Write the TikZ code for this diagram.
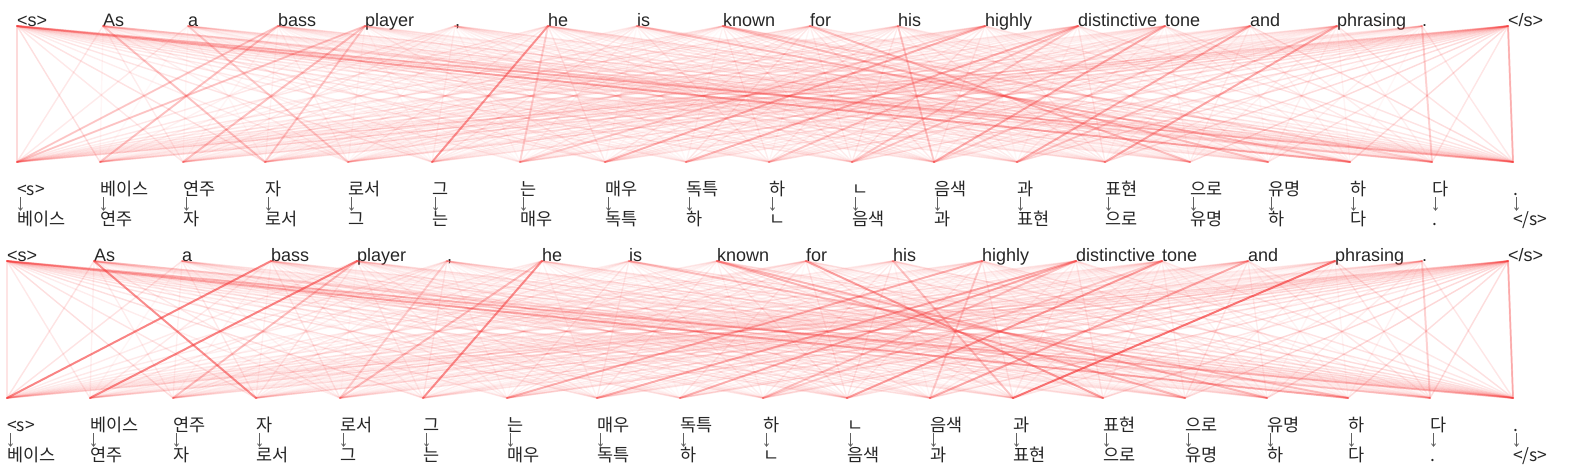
\documentclass[tikz,border=0pt]{standalone}
\usepackage{fontspec}
\setmainfont{Liberation Sans}
\newfontfamily\kr{Noto Sans CJK KR}
\usetikzlibrary{arrows.meta}
\definecolor{attred}{RGB}{245,60,60}
\tikzset{
  en/.style={anchor=base west,inner sep=0pt,font=\fontsize{18}{20}\selectfont,text=black!85},
  ko/.style={anchor=base west,inner sep=0pt,font=\kr\fontsize{17.5}{20}\selectfont,text=black!85,text height=14pt,text depth=2pt},
  att/.style={draw=attred,line width=1.4pt,line cap=round},
  hot/.style={draw=attred,line width=2pt,line cap=round},
  dn/.style={draw=gray!75!black,line width=0.8pt,-{Straight Barb[length=2.5pt,width=4pt]}}
}
\newcommand\attpanel[8]{%
  \foreach \t [count=\i from 0] in {<s>,As,a,bass,player,{,},he,is,known,for,his,highly,distinctive,tone,and,phrasing,.,</s>}{
    \pgfmathsetmacro\xx{#2[\i]}
    \node[en] (#1t\i) at (\xx,#4+1) {\t};
  }
  \foreach \j in {0,...,18}{
    \pgfmathsetmacro\xx{#3[\j]}
    \coordinate (#1b\j) at (\xx,#5);
  }
  \foreach \t [count=\j from 0] in {<s>,베이스,연주,자,로서,그,는,매우,독특,하,ㄴ,음색,과,표현,으로,유명,하,다,.}{
    \pgfmathsetmacro\xx{#3[\j]}
    \node[ko] (#1k\j) at (\xx,#6) {\t};
  }
  \foreach \t [count=\j from 0] in {베이스,연주,자,로서,그,는,매우,독특,하,ㄴ,음색,과,표현,으로,유명,하,다,.,</s>}{
    \pgfmathsetmacro\xx{#3[\j]}
    \node[ko] (#1m\j) at (\xx,#6+30) {\t};
    \draw[dn] ([xshift=3.5pt]#1k\j.south west) -- ([xshift=3.5pt]#1m\j.north west);
  }
  \pgfmathsetseed{#8}
  \foreach \i in {0,...,17}{
    \foreach \j in {0,...,18}{
      \pgfmathsetmacro\op{0.03+0.09*rnd}
      \draw[att,draw opacity=\op] (#1t\i.base west) -- (#1b\j);
    }
  }
  \foreach \j in {0,...,18}{
    \draw[att,draw opacity=0.1] (#1t17.base west) -- (#1b\j);
    \draw[att,draw opacity=0.06] (#1t0.base west) -- (#1b\j);
  }
  \foreach \i in {0,...,17}{
    \draw[att,draw opacity=0.08] (#1t\i.base west) -- (#1b18);
    \draw[att,draw opacity=0.05] (#1t\i.base west) -- (#1b0);
  }
  \foreach \i/\j/\o in {#7}{
    \draw[hot,draw opacity=\o] (#1t\i.base west) -- (#1b\j);
  }
}
\def\TA{{17,103,188,278,365,455,548,637,723,810,898,985,1078,1165,1250,1337,1422,1508}}
\def\BA{{17,100,183,265,348,432,520,605,686,769,852,934,1017,1105,1190,1268,1350,1432,1513}}
\def\TB{{7,94,182,271,357,447,542,629,717,806,893,982,1076,1162,1248,1335,1422,1508}}
\def\BB{{7,90,173,256,340,423,507,597,680,763,847,930,1013,1103,1185,1267,1348,1430,1513}}
\begin{document}
\begin{tikzpicture}[x=1pt,y=-1pt]
\useasboundingbox (0,0) rectangle (1578,475);
\attpanel{P}{\TA}{\BA}{25}{162}{195}{0/16/0.35, 1/17/0.2, 0/18/0.2,
3/1/0.25, 4/2/0.3, 4/3/0.2, 1/3/0.25, 2/4/0.2, 4/0/0.2, 3/0/0.18,
6/5/0.5, 6/6/0.2, 11/7/0.35, 12/8/0.35, 12/9/0.25, 12/10/0.2, 13/11/0.35, 14/12/0.35, 15/13/0.4, 13/10/0.2,
9/14/0.3, 8/15/0.3, 7/16/0.25, 8/17/0.2, 16/17/0.2, 17/18/0.25, 11/6/0.2, 10/11/0.2, 14/11/0.2, 15/12/0.2}{11}
\attpanel{Q}{\TB}{\BB}{260}{398}{431}{0/16/0.35, 1/17/0.2, 0/18/0.2,
3/0/0.6, 4/1/0.6, 4/2/0.25, 1/3/0.55, 6/4/0.3, 6/5/0.55, 5/4/0.18,
11/6/0.35, 12/7/0.4, 12/8/0.35, 12/9/0.25, 13/10/0.45, 14/11/0.4, 15/12/0.7, 13/9/0.2,
9/13/0.45, 8/14/0.35, 8/15/0.3, 7/16/0.25, 10/12/0.25, 11/11/0.2, 16/17/0.2, 17/18/0.25}{23}
\end{tikzpicture}
\end{document}
